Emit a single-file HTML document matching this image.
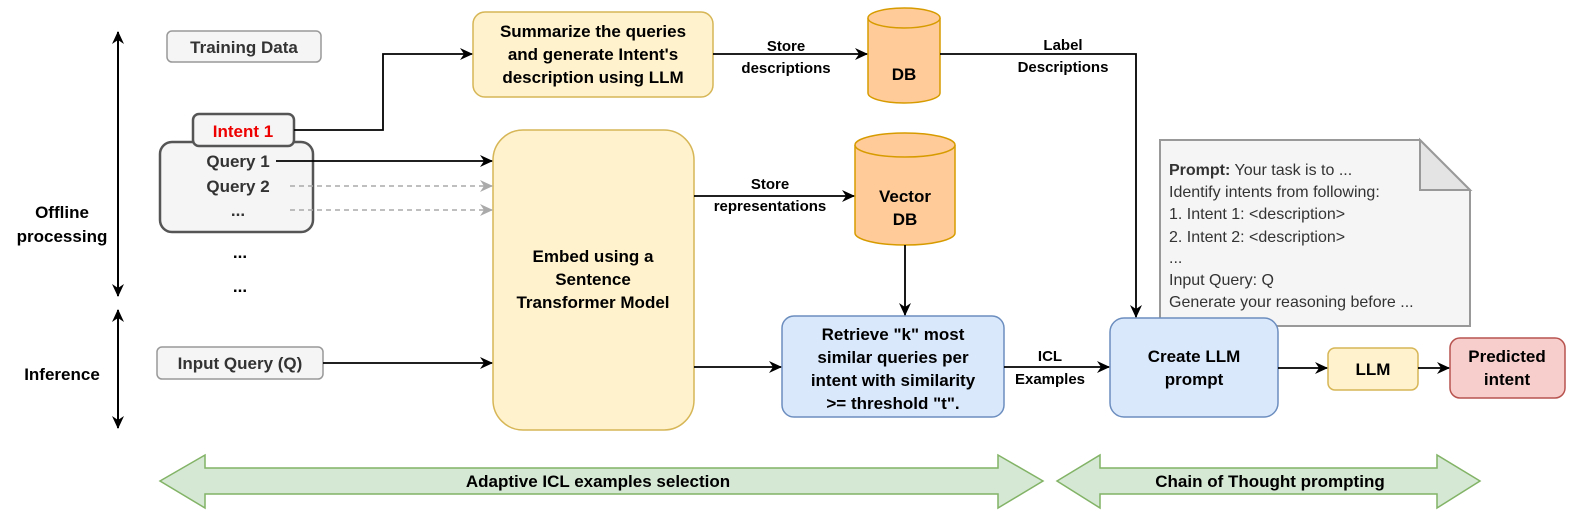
<!DOCTYPE html>
<html><head><meta charset="utf-8"><style>
body{margin:0;background:#fff}
text{font-family:"Liberation Sans",Arial,sans-serif}
.b{font-weight:bold;font-size:17px;fill:#000}
</style></head><body>
<svg width="1581" height="516" viewBox="0 0 1581 516" xmlns="http://www.w3.org/2000/svg">
<defs>
<marker id="a" markerWidth="13" markerHeight="12" refX="12" refY="6" orient="auto" markerUnits="userSpaceOnUse"><path d="M0,0 L13,6 L0,12 L4,6 Z" fill="#000"/></marker>
<marker id="g" markerWidth="13" markerHeight="12" refX="12" refY="6" orient="auto" markerUnits="userSpaceOnUse"><path d="M0,0 L13,6 L0,12 L4,6 Z" fill="#aaa"/></marker>
<marker id="s" markerWidth="13" markerHeight="12" refX="1" refY="6" orient="auto" markerUnits="userSpaceOnUse"><path d="M13,0 L0,6 L13,12 L9,6 Z" fill="#000"/></marker>
</defs>
<line x1="118" y1="32" x2="118" y2="296" stroke="#000" stroke-width="2" marker-start="url(#s)" marker-end="url(#a)"/>
<line x1="118" y1="310" x2="118" y2="428" stroke="#000" stroke-width="2" marker-start="url(#s)" marker-end="url(#a)"/>
<text class="b" x="62" y="218" text-anchor="middle">Offline</text>
<text class="b" x="62" y="242" text-anchor="middle">processing</text>
<text class="b" x="62" y="380" text-anchor="middle">Inference</text>
<rect x="167" y="31" width="154" height="31" rx="5" fill="#f5f5f5" stroke="#999" stroke-width="1.5"/>
<text class="b" x="244" y="53" text-anchor="middle" style="fill:#333">Training Data</text>
<rect x="160" y="142" width="153" height="90" rx="12" fill="#f5f5f5" stroke="#555" stroke-width="2.5"/>
<rect x="193" y="114" width="101" height="32" rx="6" fill="#f5f5f5" stroke="#555" stroke-width="2.5"/>
<text class="b" x="243" y="137" text-anchor="middle" style="fill:#e00">Intent 1</text>
<text class="b" x="238" y="167" text-anchor="middle" style="fill:#333">Query 1</text>
<text class="b" x="238" y="192" text-anchor="middle" style="fill:#333">Query 2</text>
<text class="b" x="238" y="216" text-anchor="middle" style="fill:#333">...</text>
<text class="b" x="240" y="258" text-anchor="middle">...</text>
<text class="b" x="240" y="292" text-anchor="middle">...</text>
<rect x="157" y="347" width="166" height="32" rx="5" fill="#f5f5f5" stroke="#999" stroke-width="1.5"/>
<text class="b" x="240" y="369" text-anchor="middle" style="fill:#333">Input Query (Q)</text>
<rect x="473" y="12" width="240" height="85" rx="12" fill="#fff2cc" stroke="#d6b656" stroke-width="1.5"/>
<text class="b" x="593" y="37" text-anchor="middle">Summarize the queries</text>
<text class="b" x="593" y="60" text-anchor="middle">and generate Intent's</text>
<text class="b" x="593" y="83" text-anchor="middle">description using LLM</text>
<rect x="493" y="130" width="201" height="300" rx="30" fill="#fff2cc" stroke="#d6b656" stroke-width="1.5"/>
<text class="b" x="593" y="262" text-anchor="middle">Embed using a</text>
<text class="b" x="593" y="285" text-anchor="middle">Sentence</text>
<text class="b" x="593" y="308" text-anchor="middle">Transformer Model</text>
<path d="M868,18 L868,93 A36,10 0 0 0 940,93 L940,18" fill="#ffcc99" stroke="#d79b00" stroke-width="1.5"/>
<ellipse cx="904" cy="18" rx="36" ry="10" fill="#ffcc99" stroke="#d79b00" stroke-width="1.5"/>
<text class="b" x="904" y="80" text-anchor="middle">DB</text>
<path d="M855,145 L855,233 A50,12 0 0 0 955,233 L955,145" fill="#ffcc99" stroke="#d79b00" stroke-width="1.5"/>
<ellipse cx="905" cy="145" rx="50" ry="12" fill="#ffcc99" stroke="#d79b00" stroke-width="1.5"/>
<text class="b" x="905" y="202" text-anchor="middle">Vector</text>
<text class="b" x="905" y="225" text-anchor="middle">DB</text>
<rect x="782" y="316" width="222" height="101" rx="12" fill="#dae8fc" stroke="#6c8ebf" stroke-width="1.5"/>
<text class="b" x="893" y="340" text-anchor="middle">Retrieve "k" most</text>
<text class="b" x="893" y="363" text-anchor="middle">similar queries per</text>
<text class="b" x="893" y="386" text-anchor="middle">intent with similarity</text>
<text class="b" x="893" y="409" text-anchor="middle">&gt;= threshold "t".</text>
<path d="M1160,140 L1420,140 L1470,190 L1470,326 L1160,326 Z" fill="#f5f5f5" stroke="#999" stroke-width="2"/>
<path d="M1420,140 L1420,190 L1470,190 Z" fill="#e4e4e4" stroke="#999" stroke-width="2"/>
<g style="font-size:16px;fill:#333">
<text x="1169" y="175"><tspan font-weight="bold">Prompt:</tspan> Your task is to ...</text>
<text x="1169" y="197">Identify intents from following:</text>
<text x="1169" y="219">1. Intent 1: &lt;description&gt;</text>
<text x="1169" y="242">2. Intent 2: &lt;description&gt;</text>
<text x="1169" y="263">...</text>
<text x="1169" y="285">Input Query: Q</text>
<text x="1169" y="307">Generate your reasoning before ...</text>
</g>
<rect x="1110" y="318" width="168" height="99" rx="14" fill="#dae8fc" stroke="#6c8ebf" stroke-width="1.5"/>
<text class="b" x="1194" y="362" text-anchor="middle">Create LLM</text>
<text class="b" x="1194" y="385" text-anchor="middle">prompt</text>
<rect x="1328" y="348" width="90" height="42" rx="7" fill="#fff2cc" stroke="#d6b656" stroke-width="1.5"/>
<text class="b" x="1373" y="375" text-anchor="middle">LLM</text>
<rect x="1450" y="338" width="115" height="60" rx="10" fill="#f8cecc" stroke="#b85450" stroke-width="1.5"/>
<text class="b" x="1507" y="362" text-anchor="middle">Predicted</text>
<text class="b" x="1507" y="385" text-anchor="middle">intent</text>
<g stroke="#000" stroke-width="1.8" fill="none">
<polyline points="294,130 383,130 383,54 472,54" marker-end="url(#a)"/>
<line x1="276" y1="161" x2="492" y2="161" marker-end="url(#a)"/>
<line x1="713" y1="54" x2="867" y2="54" marker-end="url(#a)"/>
<polyline points="940,54 1136,54 1136,317" marker-end="url(#a)"/>
<line x1="694" y1="196" x2="854" y2="196" marker-end="url(#a)"/>
<line x1="905" y1="245" x2="905" y2="315" marker-end="url(#a)"/>
<line x1="323" y1="363" x2="492" y2="363" marker-end="url(#a)"/>
<line x1="694" y1="367" x2="781" y2="367" marker-end="url(#a)"/>
<line x1="1004" y1="367" x2="1109" y2="367" marker-end="url(#a)"/>
<line x1="1278" y1="368" x2="1327" y2="368" marker-end="url(#a)"/>
<line x1="1418" y1="368" x2="1449" y2="368" marker-end="url(#a)"/>
</g>
<g stroke="#aaa" stroke-width="1.5" stroke-dasharray="5,4" fill="none">
<line x1="290" y1="186" x2="492" y2="186" marker-end="url(#g)"/>
<line x1="290" y1="210" x2="492" y2="210" marker-end="url(#g)"/>
</g>
<g style="font-size:15px;font-weight:bold" text-anchor="middle">
<text x="786" y="51">Store</text><text x="786" y="73">descriptions</text>
<text x="1063" y="50">Label</text><text x="1063" y="72">Descriptions</text>
<text x="770" y="189">Store</text><text x="770" y="211">representations</text>
<text x="1050" y="361">ICL</text><text x="1050" y="384">Examples</text>
</g>
<path d="M160,481 L205,455 L205,468 L998,468 L998,455 L1043,481 L998,508 L998,494 L205,494 L205,508 Z" fill="#d5e8d4" stroke="#82b366" stroke-width="1.5"/>
<path d="M1057,481 L1100,455 L1100,468 L1437,468 L1437,455 L1480,481 L1437,508 L1437,494 L1100,494 L1100,508 Z" fill="#d5e8d4" stroke="#82b366" stroke-width="1.5"/>
<text class="b" x="598" y="487" text-anchor="middle">Adaptive ICL examples selection</text>
<text class="b" x="1270" y="487" text-anchor="middle">Chain of Thought prompting</text>
</svg>
</body></html>
